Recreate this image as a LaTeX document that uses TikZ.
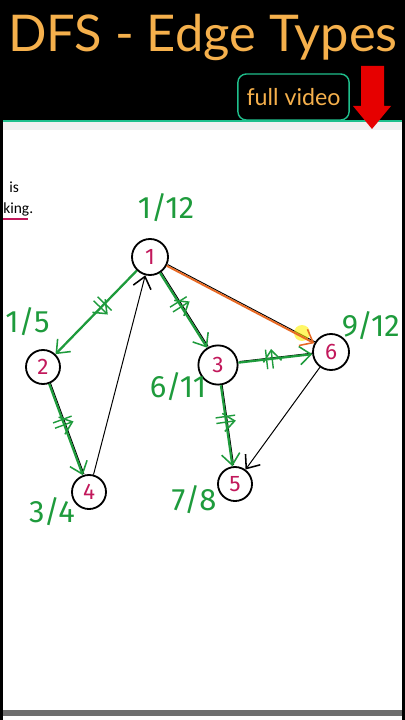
\documentclass[tikz,border=0pt]{standalone}
\usepackage{fontspec}
\setmainfont{Carlito}
\newfontfamily\titlefont{Lato}
\newfontfamily\handfont{Fira Sans}
\usetikzlibrary{arrows.meta,decorations.markings}
\definecolor{titleorange}{HTML}{F5B04C}
\definecolor{boxteal}{HTML}{1FBF8C}
\definecolor{penred}{HTML}{C2185B}
\definecolor{pengreen}{HTML}{1E9B3C}
\definecolor{penorange}{HTML}{E86A25}
\definecolor{arrowred}{HTML}{E60000}
\begin{document}
\begin{tikzpicture}[x=0.025cm,y=-0.025cm,
    vertex/.style={circle, draw, line width=1.3pt, minimum size=0.9cm, inner sep=0pt,
      text=penred, font=\handfont\fontsize{16}{16}\selectfont},
    timestamp/.style={text=pengreen, font=\handfont\fontsize{22}{22}\selectfont, inner sep=0pt},
    barb/.style={-{Straight Barb[length=8pt,width=13pt,line width=1.1pt]}},
    backedge/.style={barb, line width=0.7pt},
    shadow/.style={line width=0.7pt, transform canvas={xshift=0.8pt,yshift=0.8pt}},
    treeedge/.style={barb, pengreen, line width=1.6pt, postaction={decorate},
      decoration={markings, mark=at position 0.42 with {
        \draw[pengreen, line width=1pt] (-2pt,-7pt) -- (-2pt,7pt) (2pt,-7pt) -- (2pt,7pt);}}}
  ]
    % Frame and panel
    \fill[black] (0,0) rectangle (405,720);
    \fill[white] (3,121) rectangle (402,720);
    \fill[black!6] (3,121) rectangle (402,130);
    \draw[boxteal, line width=1pt] (3,121) -- (402,121);
    \fill[black!57] (3,710) rectangle (402,716);

    % Title
    \node[text=titleorange, font=\titlefont\fontsize{36}{36}\selectfont] (title) at (203,37) {DFS - Edge Types};

    % Link box and arrow
    \node[draw=boxteal, line width=1pt, rounded corners=6pt, minimum width=2.78cm, minimum height=1.15cm,
      text=titleorange, font=\titlefont\fontsize{16.5}{16.5}\selectfont] (video) at (293.5,97) {full video};
    \fill[arrowred] (361,66) -- (384,66) -- (384,106) -- (391,106) -- (372,129) -- (353,106) -- (361,106) -- cycle;

    % Text at the left edge
    \node[anchor=base west, font=\fontsize{11}{11}\selectfont, inner sep=0pt] (is) at (9,193) {is};
    \node[anchor=base west, font=\fontsize{11}{11}\selectfont, inner sep=0pt] (king) at (3,214) {king.};
    \draw[penred, line width=0.8pt] (3,219) -- (28,219);

    % Vertices
    \node[vertex] (n1) at (150,257) {1};
    \node[vertex, minimum size=0.85cm] (n2) at (43,367) {2};
    \node[vertex, minimum size=0.98cm] (n3) at (218,365) {3};
    \node[vertex, minimum size=0.85cm] (n4) at (89,492) {4};
    \node[vertex, minimum size=0.85cm] (n5) at (235,484) {5};
    \node[vertex] (n6) at (331,352) {6};

    % Shadow strokes under the coloured edges
    \foreach \a/\b in {n1/n2, n2/n4, n1/n3, n3/n6, n3/n5, n1/n6}
      \draw[shadow] (\a) -- (\b);

    % Tree edges
    \foreach \a/\b in {n1/n2, n2/n4, n1/n3, n3/n6, n3/n5}
      \draw[treeedge] (\a) -- (\b);

    % Forward edge
    \fill[yellow, opacity=0.6] (302,333) circle (8);
    \draw[barb, penorange, line width=1.4pt] (n1) -- (n6);

    % Back and cross edges
    \draw[backedge] (n4) -- (n1);
    \draw[backedge] (n6) -- (n5);

    % Discovery / finish times
    \node[timestamp] (t1) at (166,208) {1/12};
    \node[timestamp, anchor=west] (t2) at (5,322) {1/5};
    \node[timestamp] (t3) at (178,387) {6/11};
    \node[timestamp] (t4) at (52,512) {3/4};
    \node[timestamp] (t5) at (194,500) {7/8};
    \node[timestamp, anchor=east] (t6) at (400,326) {9/12};
\end{tikzpicture}
\end{document}
